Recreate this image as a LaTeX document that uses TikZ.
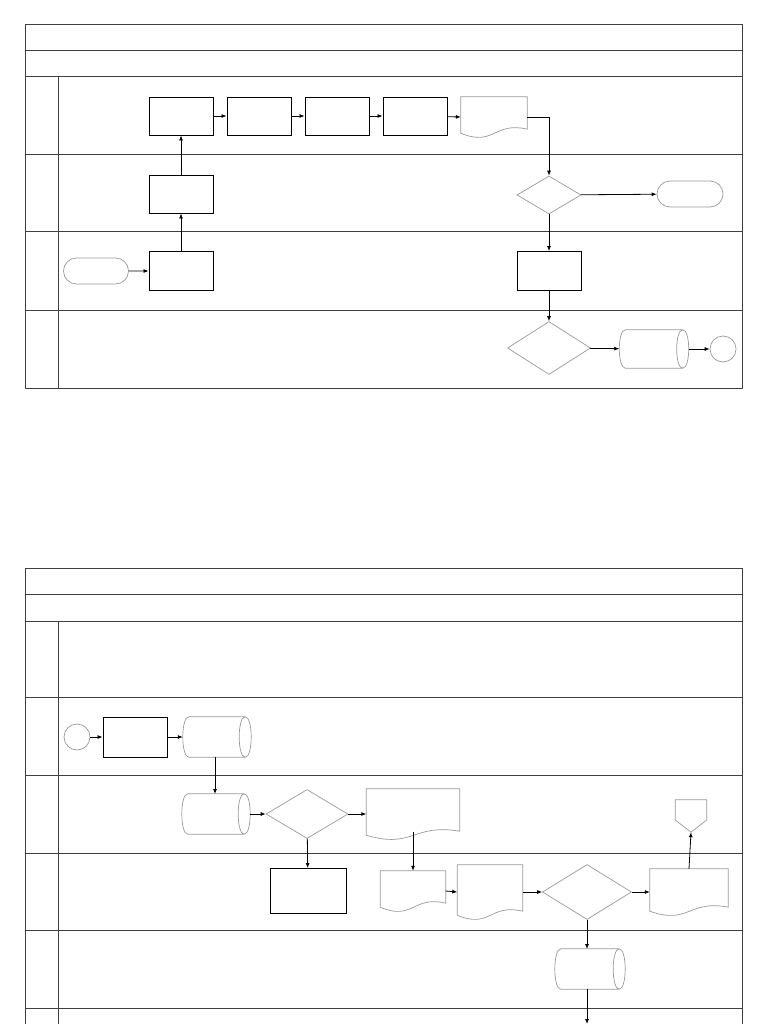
\documentclass[tikz,border=0pt]{standalone}
\usetikzlibrary{shapes.geometric,shapes.misc,calc,arrows.meta}
\begin{document}
\begin{tikzpicture}[x=1pt,y=-1pt,
  frame/.style={draw=black!75,line width=1pt},
  proc/.style={draw=black,line width=0.9pt,rectangle,inner sep=0,minimum width=64pt,minimum height=38pt},
  gshape/.style={draw=black!40,line width=0.7pt,inner sep=0},
  dia/.style={gshape,diamond},
  term/.style={gshape,rounded rectangle,minimum width=66pt,minimum height=26pt},
  conn/.style={gshape,circle,minimum size=26pt},
  docbox/.style={inner sep=0,rectangle},
  docline/.style={draw=black!40,line width=0.7pt},
  arr/.style={draw=black,line width=0.8pt,-{Latex[length=5pt,width=4pt]}}]
\useasboundingbox (0,0) rectangle (768,1024);
\newcommand\docpath[1]{\draw[docline] (#1.north west) -- (#1.north east) -- ($(#1.south east)+(0,-8)$) .. controls ($(#1.south)+(0,-16)$) and ($(#1.south)+(0,10)$) .. ($(#1.south west)+(0,-4)$) -- cycle;}
\newcommand\cylpath[1]{\draw[docline] ($(#1.north east)+(-6,0)$) -- ($(#1.north west)+(6,0)$) .. controls ($(#1.north west)+(-2,0)$) and ($(#1.south west)+(-2,0)$) .. ($(#1.south west)+(6,0)$) -- ($(#1.south east)+(-6,0)$) .. controls ($(#1.south east)+(2,0)$) and ($(#1.north east)+(2,0)$) .. ($(#1.north east)+(-6,0)$) .. controls ($(#1.north east)+(-14,0)$) and ($(#1.south east)+(-14,0)$) .. ($(#1.south east)+(-6,0)$);}
% ---------- top table
\draw[frame] (25,25) rectangle (742,388);
\draw[frame] (25,51) -- (742,51);
\draw[frame] (25,77) -- (742,77);
\draw[frame] (25,155) -- (742,155);
\draw[frame] (25,232) -- (742,232);
\draw[frame] (25,310) -- (742,310);
\draw[frame] (58,77) -- (58,388);
% lane 1
\node[proc] (a1) at (181,116) {};
\node[proc] (a2) at (259,116) {};
\node[proc] (a3) at (337,116) {};
\node[proc] (a4) at (415,116) {};
\node[docbox,minimum width=66pt,minimum height=40pt] (ad) at (494,117) {};
\docpath{ad}
% lane 2
\node[proc] (b1) at (181,194) {};
\node[dia,minimum width=64pt,minimum height=38pt] (bd) at (549,195) {};
\node[term] (bt) at (690,194) {};
% lane 3
\node[term,minimum width=65pt] (ct) at (96,271) {};
\node[proc,minimum height=39pt] (c1) at (181,271) {};
\node[proc,minimum height=39pt] (c2) at (549,271) {};
% lane 4
\node[dia,minimum width=83pt,minimum height=53pt] (dd) at (549,348) {};
\node[docbox,minimum width=69pt,minimum height=38pt] (dc) at (654,349) {};
\cylpath{dc}
\node[conn] (de) at (723,349) {};
% arrows
\draw[arr] (ct) -- (c1);
\draw[arr] (c1) -- (b1);
\draw[arr] (b1) -- (a1);
\draw[arr] (a1) -- (a2);
\draw[arr] (a2) -- (a3);
\draw[arr] (a3) -- (a4);
\draw[arr] (a4) -- (ad.west);
\draw[arr] (ad.east) -| (bd.north);
\draw[arr] (bd) -- (bt);
\draw[arr] (bd) -- (c2);
\draw[arr] (c2) -- (dd);
\draw[arr] (dd) -- (dc);
\draw[arr] (dc) -- (de);
% ---------- bottom table
\draw[frame] (25,1030) -- (25,568) -- (742,568) -- (742,1030);
\draw[frame] (25,594) -- (742,594);
\draw[frame] (25,621) -- (742,621);
\draw[frame] (25,697) -- (742,697);
\draw[frame] (25,775) -- (742,775);
\draw[frame] (25,853) -- (742,853);
\draw[frame] (25,930) -- (742,930);
\draw[frame] (25,1008) -- (742,1008);
\draw[frame] (58,621) -- (58,1030);
% lane 2
\node[conn] (e0) at (77,737) {};
\node[proc,minimum height=40pt] (e1) at (135,737) {};
\node[docbox,minimum width=68pt,minimum height=40pt] (ec) at (217,737) {};
\cylpath{ec}
% lane 3
\node[docbox,minimum width=68pt,minimum height=40pt] (fc) at (216,814) {};
\cylpath{fc}
\node[dia,minimum width=82pt,minimum height=49pt] (fd) at (307,814) {};
\node[docbox,minimum width=93pt,minimum height=50pt] (fdoc) at (413,814) {};
\docpath{fdoc}
\node[docbox,minimum width=31pt,minimum height=32pt] (off) at (691,816) {};
\draw[docline] (off.north west) -- (off.north east) -- ($(off.east)+(0,4)$) -- (off.south) -- ($(off.west)+(0,4)$) -- cycle;
% lane 4
\node[proc,minimum width=76pt,minimum height=45pt] (g1) at (308,891) {};
\node[docbox,minimum width=65pt,minimum height=40pt] (gd1) at (413,891) {};
\docpath{gd1}
\node[docbox,minimum width=65pt,minimum height=54pt] (gd2) at (490,892) {};
\docpath{gd2}
\node[dia,minimum width=89pt,minimum height=55pt] (gd) at (587,892) {};
\node[docbox,minimum width=78pt,minimum height=46pt] (gd3) at (689,892) {};
\docpath{gd3}
% lane 5
\node[docbox,minimum width=70pt,minimum height=40pt] (hc) at (590,969) {};
\cylpath{hc}
\coordinate (hend) at (587,1024);
% arrows
\draw[arr] (e0) -- (e1);
\draw[arr] (e1) -- (ec);
\draw[arr] (215,757) -- (215,794);
\draw[arr] (fc) -- (fd);
\draw[arr] (fd) -- (fdoc.west);
\draw[arr] (fd) -- (g1);
\draw[arr] (413,832) -- (gd1.north);
\draw[arr] (gd1.east) -- (gd2.west);
\draw[arr] (gd2.east) -- (gd.west);
\draw[arr] (gd.east) -- (gd3.west);
\draw[arr] (gd3.north) -- (off.south);
\draw[arr] (gd.south) -- (587,949);
\draw[arr] (587,989) -- (hend);
\end{tikzpicture}
\end{document}
